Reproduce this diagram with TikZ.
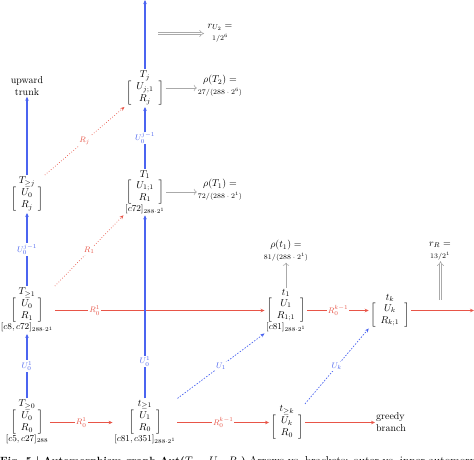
\documentclass[tikz,border=0pt]{standalone}
\usetikzlibrary{arrows.meta}
\definecolor{myblue}{RGB}{75,100,240}
\definecolor{myred}{RGB}{232,85,72}
\definecolor{mygray}{RGB}{170,170,170}
\newcommand\brk[2]{$\left[\begin{array}{c}#1\\#2\end{array}\right]$}
\tikzset{
  state/.style={align=center, inner sep=1.5pt, font=\normalsize},
  ann/.style={align=center, inner sep=1pt},
  tip/.style={-{Stealth[length=4pt,width=3.5pt]}},
  blu/.style={color=myblue, line width=1.3pt, tip},
  blud/.style={color=myblue, line width=0.7pt, dash pattern=on 1.5pt off 1.5pt, tip},
  rdl/.style={color=myred, line width=0.9pt, tip},
  rdd/.style={color=myred, line width=0.7pt, dotted, tip},
  gya/.style={color=mygray, line width=0.6pt, -{To[length=3pt]}},
  gyd/.style={color=mygray, double=white, double distance=1.8pt, line width=0.6pt, -{Implies}},
  lb/.style={fill=white, inner sep=1pt, font=\footnotesize, midway},
  lbb/.style={lb, text=myblue},
  lbr/.style={lb, text=myred},
}
\begin{document}
\begin{tikzpicture}[x=1bp, y=-1bp]
\useasboundingbox (0,0) rectangle (474,460);
\clip (0,0) rectangle (474,460);
% states
\node[state] (Tgj) at (27,194) {$T_{\geq j}$\\ \brk{U_0}{R_j}};
\node[state] (Tg1) at (27,310) {$T_{\geq 1}$\\ \brk{U_0}{R_1}\\ {\small $[c8, c72]_{288\cdot 2^1}$}};
\node[state] (Tg0) at (27,422) {$T_{\geq 0}$\\ \brk{U_0}{R_0}\\ {\small $[c5, c27]_{288}$}};
\node[state] (Tj) at (145,88) {$T_j$\\ \brk{U_{j;1}}{R_j}};
\node[state] (T1) at (145,192) {$T_1$\\ \brk{U_{1;1}}{R_1}\\ {\small $[c72]_{288\cdot 2^1}$}};
\node[state] (tg1) at (145,422) {$t_{\geq 1}$\\ \brk{U_1}{R_0}\\ {\small $[c81, c351]_{288\cdot 2^1}$}};
\node[state] (t1) at (286,310.5) {$t_1$\\ \brk{U_1}{R_{1;1}}\\ {\small $[c81]_{288\cdot 2^1}$}};
\node[state] (tk) at (390,310.5) {$t_k$\\ \brk{U_k}{R_{k;1}}};
\node[state] (tgk) at (287,422.5) {$t_{\geq k}$\\ \brk{U_k}{R_0}};
% text nodes
\node[ann] (up) at (27,86) {upward\\trunk};
\node[ann, align=left, anchor=west] (gb) at (375,422.5) {greedy\\branch};
\node[ann] (rU) at (220,33) {$r_{U_2} =$\\ {\scriptsize $1/2^6$}};
\node[ann] (rhoT2) at (220,86) {$\rho(T_2) =$\\ {\scriptsize $27/(288\cdot 2^6)$}};
\node[ann] (rhoT1) at (220,190) {$\rho(T_1) =$\\ {\scriptsize $72/(288\cdot 2^1)$}};
\node[ann] (rhot1) at (286,251) {$\rho(t_1) =$\\ {\scriptsize $81/(288\cdot 2^1)$}};
\node[ann] (rR) at (440,251) {$r_R =$\\ {\scriptsize $13/2^1$}};
\coordinate (top) at (145,0);
\coordinate (rend) at (474,310.5);
\coordinate (rUs) at (158,33.5);
\coordinate (rUe) at (204,33.5);
\coordinate (rRs) at (440.5,300);
% gray
\draw[gyd] (rUs) -- (rUe);
\draw[gya] (Tj.east) -- (Tj.east -| rhoT2.west);
\draw[gya] (T1.east) -- (T1.east -| rhoT1.west);
\draw[gya] (t1.north) -- (rhot1.south);
\draw[gyd] (rRs) -- (rRs |- rR.south);
% red
\draw[rdl] (Tg1.east |- t1) -- node[lbr, pos=0.19]{$R_0^1$} (t1);
\draw[rdl] (t1) -- node[lbr]{$R_0^{k-1}$} (tk);
\draw[rdl] (tk) -- (rend);
\draw[rdl] (Tg0.east |- tgk) -- node[lbr]{$R_0^1$} (tg1.west |- tgk);
\draw[rdl] (tg1.east |- tgk) -- node[lbr]{$R_0^{k-1}$} (tgk);
\draw[rdl] (tgk) -- (gb);
\draw[rdd] (Tgj.north east) -- node[lbr]{$R_j$} (Tj.south west);
\draw[rdd] (Tg1.north east) -- node[lbr]{$R_1$} (T1.south west);
% blue
\draw[blu] (Tg0) -- node[lbb]{$U_0^1$} (Tg1);
\draw[blu] (Tg1) -- node[lbb]{$U_0^{j-1}$} (Tgj);
\draw[blu] (Tgj) -- (up);
\draw[blu] (tg1) -- node[lbb, pos=0.2]{$U_0^1$} (T1);
\draw[blu] (T1) -- node[lbb]{$U_0^{j-1}$} (Tj);
\draw[blu] (Tj) -- (top);
\draw[blud] (tg1.north east) -- node[lbb]{$U_1$} (t1.south west);
\draw[blud] (tgk.north east) -- node[lbb]{$U_k$} (tk.south west);
% caption (cut by the frame)
\node[anchor=base west, inner sep=0pt] (cap) at (0,464) {{\fontsize{10.5}{12}\selectfont\bfseries Fig. 5 | Automorphism graph Aut($T_{\geq 0}$, $U_0$, $R_0$)} {\fontsize{11.5}{13}\selectfont Arrows vs.\ brackets: outer vs.\ inner automorphisms}};
\end{tikzpicture}
\end{document}
